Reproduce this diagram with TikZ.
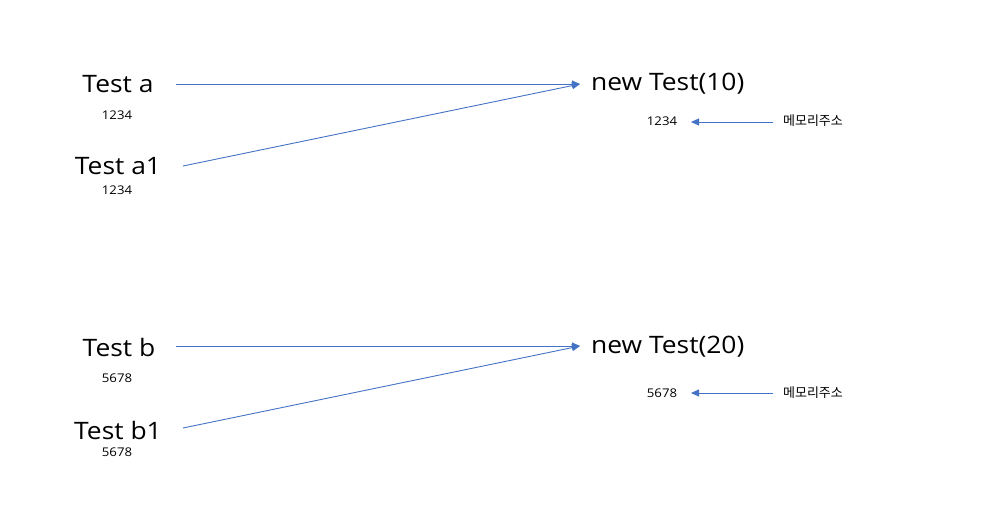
\documentclass[tikz,border=0pt]{standalone}
\usepackage{fontspec}
\setmainfont[FakeStretch=1.1]{Open Sans}
\newfontfamily\korean{Noto Sans CJK KR}
\usetikzlibrary{arrows.meta}
\definecolor{arrowblue}{HTML}{4472C4}
\tikzset{
  big/.style={inner sep=0pt, font=\fontsize{24}{28}\selectfont},
  small/.style={inner sep=0pt, font=\fontsize{12}{14}\selectfont},
  kor/.style={inner sep=0pt, font=\korean\fontsize{13}{15}\selectfont},
  ptr/.style={draw=arrowblue, line width=0.9pt, -{Triangle[length=8pt,width=7pt]}}
}
\begin{document}
\begin{tikzpicture}[x=1pt,y=-1pt]
\useasboundingbox (0,0) rectangle (986,530);
% top group
\node[big] (ta) at (118,84) {Test a};
\node[small] (tan) at (117,115) {1234};
\node[big] (ta1) at (118,166) {Test a1};
\node[small] (ta1n) at (117,190) {1234};
\node[big, anchor=west] (nt10) at (591,84) {new Test(10)};
\node[small] (m1n) at (662,121) {1234};
\node[kor] (m1k) at (813,121) {메모리주소};
\coordinate (a-s) at (176,84);
\coordinate (a1-s) at (183,166);
\coordinate (t10-in) at (580,84);
\coordinate (m1-s) at (773,122);
\coordinate (m1-e) at (691,122);
\draw[ptr] (a-s) -- (t10-in);
\draw[ptr] (a1-s) -- (t10-in);
\draw[ptr] (m1-s) -- (m1-e);
% bottom group
\node[big] (tb) at (119,347) {Test b};
\node[small] (tbn) at (117,378) {5678};
\node[big] (tb1) at (118,430) {Test b1};
\node[small] (tb1n) at (117,452) {5678};
\node[big, anchor=west] (nt20) at (591,347) {new Test(20)};
\node[small] (m2n) at (662,393) {5678};
\node[kor] (m2k) at (813,393) {메모리주소};
\coordinate (b-s) at (176,346);
\coordinate (b1-s) at (183,428);
\coordinate (t20-in) at (580,346);
\coordinate (m2-s) at (773,393);
\coordinate (m2-e) at (691,393);
\draw[ptr] (b-s) -- (t20-in);
\draw[ptr] (b1-s) -- (t20-in);
\draw[ptr] (m2-s) -- (m2-e);
\end{tikzpicture}
\end{document}
